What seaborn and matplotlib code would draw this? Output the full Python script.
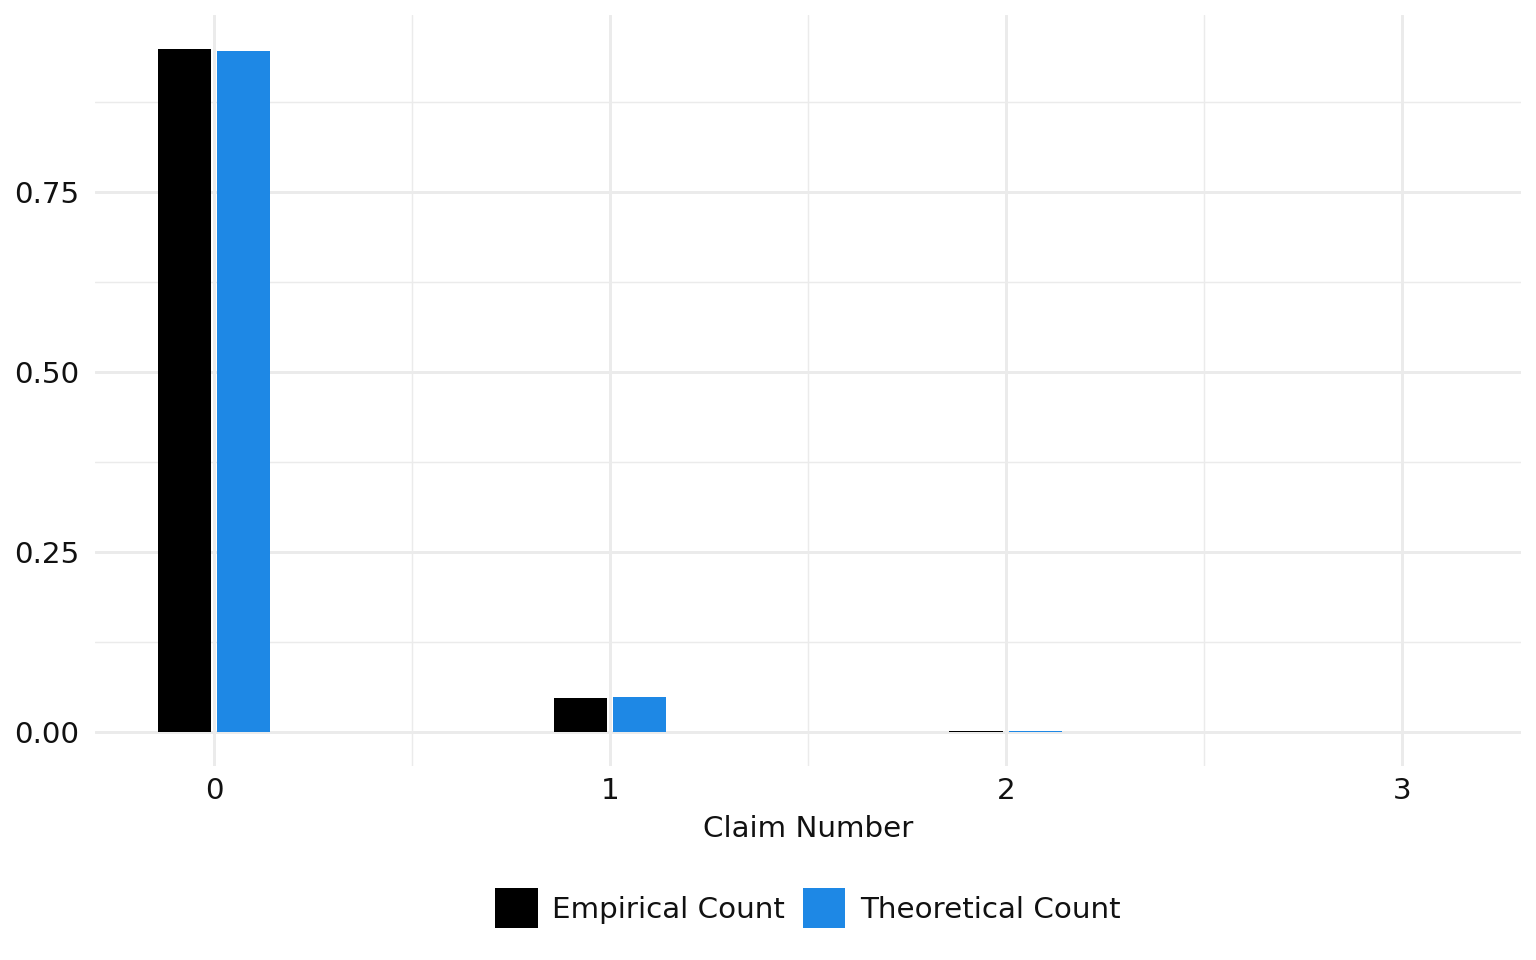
import numpy as np
import pandas as pd
import seaborn as sns
import matplotlib.pyplot as plt
from matplotlib.patches import Patch

# values
claim_numbers = [0, 1, 2, 3]
empirical = [0.9486, 0.0472, 0.0013, 0.00004]
theoretical = [0.9471, 0.0490, 0.0013, 0.00002]
series_names = ['Empirical Count', 'Theoretical Count']
series_colors = ['#000000', '#1E88E5']
y_ticks = [0.00, 0.25, 0.50, 0.75]

df = pd.DataFrame({
    'claim': claim_numbers * 2,
    'prob': empirical + theoretical,
    'type': [series_names[0]] * len(claim_numbers) + [series_names[1]] * len(claim_numbers),
})

sns.set_theme(style='white')
plt.rcParams['font.family'] = ['DejaVu Sans']

fig, ax = plt.subplots(figsize=(8, 5), dpi=192)
fig.subplots_adjust(left=0.062, right=0.99, top=0.984, bottom=0.202)

sns.barplot(data=df, x='claim', y='prob', hue='type', palette=series_colors,
            width=0.3, gap=0.1, dodge=True, saturation=1, legend=False, ax=ax,
            linewidth=0, edgecolor='none', zorder=3)

# ggplot-like minimal grid
grid_col = '#EBEBEB'
for xv in [0.5, 1.5, 2.5]:
    ax.axvline(xv, color=grid_col, lw=0.55, zorder=0)
for yv in [0.125, 0.375, 0.625, 0.875]:
    ax.axhline(yv, color=grid_col, lw=0.55, zorder=0)
for xv in claim_numbers:
    ax.axvline(xv, color=grid_col, lw=1.1, zorder=0)
for yv in y_ticks:
    ax.axhline(yv, color=grid_col, lw=1.1, zorder=0)

ax.set_xlim(-0.3, 3.3)
ax.set_ylim(-0.0474, 0.996)
ax.set_yticks(y_ticks)
ax.set_yticklabels([f'{v:.2f}' for v in y_ticks])
ax.set_xticks(claim_numbers)
ax.set_xticklabels([str(c) for c in claim_numbers])
ax.tick_params(axis='both', length=0, labelsize=11, colors='#111111')
ax.tick_params(axis='y', pad=6)
ax.tick_params(axis='x', pad=4)
ax.set_xlabel('Claim Number', fontsize=11, color='#111111', labelpad=4)
ax.set_ylabel('')
sns.despine(ax=ax, left=True, bottom=True, top=True, right=True)

handles = [Patch(facecolor=c, edgecolor='none') for c in series_colors]
fig.legend(handles, series_names, loc='center', bbox_to_anchor=(0.526, 0.054),
           ncol=2, frameon=False, fontsize=11, handlelength=1.45, handleheight=1.75,
           handletextpad=0.5, columnspacing=0.6, labelcolor='#111111')

fig.savefig('out.png', dpi=192)
